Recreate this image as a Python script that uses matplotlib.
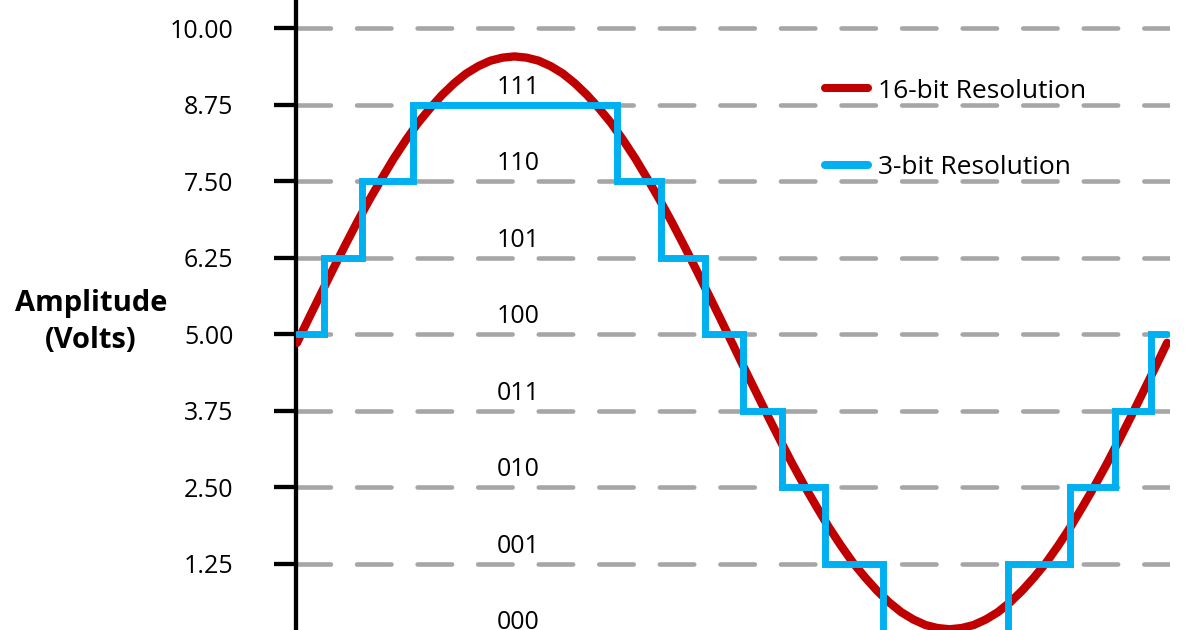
import matplotlib
matplotlib.use('Agg')
import matplotlib.pyplot as plt
from matplotlib.ticker import FixedLocator, FormatStrFormatter

plt.rcParams['font.family'] = ['Open Sans', 'DejaVu Sans']
plt.rcParams['lines.scale_dashes'] = False

# phase of the signal in degrees (x axis has no labels)
phase16 = list(range(0, 361, 5))
volts16 = [4.86, 5.27, 5.67, 6.07, 6.46, 6.84, 7.20, 7.54, 7.87, 8.17,
           8.45, 8.69, 8.91, 9.10, 9.26, 9.38, 9.47, 9.52, 9.54, 9.52,
           9.47, 9.38, 9.26, 9.10, 8.91, 8.69, 8.45, 8.17, 7.87, 7.54,
           7.20, 6.84, 6.46, 6.07, 5.67, 5.27, 4.86, 4.45, 4.05, 3.65,
           3.26, 2.88, 2.52, 2.18, 1.85, 1.55, 1.27, 1.03, 0.81, 0.62,
           0.46, 0.34, 0.25, 0.20, 0.18, 0.20, 0.25, 0.34, 0.46, 0.62,
           0.81, 1.03, 1.27, 1.55, 1.85, 2.18, 2.52, 2.88, 3.26, 3.65,
           4.05, 4.45, 4.86]

# 3-bit staircase: step edges and held level
phase3 = [0, 11, 27, 48, 132.5, 150.5, 169, 184.5, 200.5, 218.5,
          242.5, 294, 320, 338.5, 353.5, 360]
volts3 = [5.00, 6.25, 7.50, 8.75, 7.50, 6.25, 5.00, 3.75, 2.50, 1.25,
          0.00, 1.25, 2.50, 3.75, 5.00]

yticks = [0.00, 1.25, 2.50, 3.75, 5.00, 6.25, 7.50, 8.75, 10.00]
codes = ['000', '001', '010', '011', '100', '101', '110', '111']
code_levels = [0.00, 1.25, 2.50, 3.75, 5.00, 6.25, 7.50, 8.75]

fig = plt.figure(figsize=(12, 6.3), dpi=100)
ax = fig.add_axes([296 / 1200, 0, 874 / 1200, 1])

ax.plot(phase16, volts16, color='#C00000', lw=6, solid_capstyle='round',
        solid_joinstyle='round', label='16-bit Resolution', zorder=3)
ax.step(phase3, volts3 + [volts3[-1]], where='post', color='#00B0F0', lw=5,
        solid_capstyle='round', solid_joinstyle='miter',
        label='3-bit Resolution', zorder=4)

for c, lv in zip(codes, code_levels):
    ax.text(91.4, lv + 0.29, c, ha='center', va='center', fontsize=18,
            color='black', zorder=5)

ax.set_xlim(-0.41, 361.2)
ax.set_ylim(0.168, 10.462)
ax.yaxis.set_major_locator(FixedLocator(yticks))
ax.yaxis.set_major_formatter(FormatStrFormatter('%.2f'))
ax.set_xticks([])
ax.tick_params(axis='y', length=16, width=3.1, pad=29, labelsize=18,
               colors='black')
ax.yaxis.grid(True, color='#A6A6A6', lw=3.3, dashes=(24.8, 18.8),
              dash_capstyle='round')
ax.set_axisbelow(True)
for s in ['top', 'right', 'bottom']:
    ax.spines[s].set_visible(False)
ax.spines['left'].set_linewidth(3.1)
ax.spines['left'].set_color('black')

fig.text(91 / 1200, 1 - 322 / 630, 'Amplitude\n(Volts)', ha='center',
         va='center', fontsize=21, fontweight='bold', linespacing=1.35)

leg = ax.legend(loc='center left', bbox_to_anchor=(824.7 / 1200, 1 - 129.3 / 630),
                bbox_transform=fig.transFigure, frameon=False, fontsize=19,
                borderpad=0, borderaxespad=0, handlelength=1.63,
                handletextpad=0.38, labelspacing=1.94)
for h in leg.get_lines():
    h.set_linewidth(5.8)

fig.savefig('out.png', dpi=100)
